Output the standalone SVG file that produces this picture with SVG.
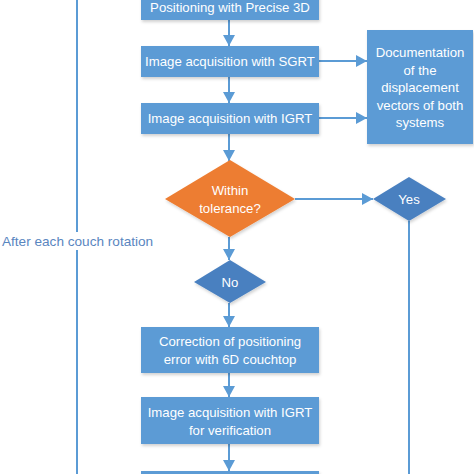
<svg xmlns="http://www.w3.org/2000/svg" width="474" height="474" viewBox="0 0 474 474">
<defs>
<style>
.box{fill:#5b9bd5;filter:url(#sh)}
.dk{fill:#4a80c0;filter:url(#sh)}
.or{fill:#ed7d31;filter:url(#sh)}
.t{font-family:"Liberation Sans",Arial,sans-serif;font-size:13.2px;fill:#ffffff;text-anchor:middle}
.ln{stroke:#5b9bd5;stroke-width:2;fill:none}
.lbl{font-family:"Liberation Sans",Arial,sans-serif;font-size:13.6px;fill:#5a86bf}
</style>
<filter id="sh" x="-10%" y="-10%" width="125%" height="130%">
<feDropShadow dx="1" dy="2" stdDeviation="1.5" flood-color="#000" flood-opacity="0.18"/>
</filter>
<marker id="ah" markerWidth="12" markerHeight="12" refX="11" refY="6" orient="auto" markerUnits="userSpaceOnUse">
<path d="M0,0 L11,6 L0,12 Z" fill="#5b9bd5"/>
</marker>
</defs>
<rect width="474" height="474" fill="#ffffff"/>
<g id="connectors">
<line class="ln" x1="77" y1="0" x2="77" y2="232"/>
<line class="ln" x1="77" y1="250" x2="77" y2="474"/>
<line class="ln" x1="229" y1="20" x2="229" y2="46" marker-end="url(#ah)"/>
<line class="ln" x1="229" y1="77" x2="229" y2="103" marker-end="url(#ah)"/>
<line class="ln" x1="229" y1="134" x2="229" y2="161" marker-end="url(#ah)"/>
<line class="ln" x1="319" y1="61" x2="367" y2="61" marker-end="url(#ah)"/>
<line class="ln" x1="319" y1="118" x2="367" y2="118" marker-end="url(#ah)"/>
<line class="ln" x1="295" y1="199" x2="373" y2="199" marker-end="url(#ah)"/>
<line class="ln" x1="409" y1="221" x2="409" y2="474"/>
<line class="ln" x1="229" y1="237" x2="229" y2="260" marker-end="url(#ah)"/>
<line class="ln" x1="229" y1="303" x2="229" y2="327" marker-end="url(#ah)"/>
<line class="ln" x1="229" y1="373" x2="229" y2="397" marker-end="url(#ah)"/>
<line class="ln" x1="229" y1="444" x2="229" y2="471" marker-end="url(#ah)"/>
</g>
<g id="label-loop"><text class="lbl" x="2" y="246">After each couch rotation</text></g>
<g id="n1"><rect class="box" x="141" y="-12" width="178" height="32"/><text class="t" x="230" y="11.5">Positioning with Precise 3D</text></g>
<g id="n2"><rect class="box" x="141" y="46" width="178" height="31"/><text class="t" x="230" y="66">Image acquisition with SGRT</text></g>
<g id="n3"><rect class="box" x="141" y="103" width="178" height="31"/><text class="t" x="230" y="123">Image acquisition with IGRT</text></g>
<g id="n4"><rect class="box" x="367" y="30" width="106" height="114"/>
<text class="t" x="420" y="57">Documentation</text>
<text class="t" x="420" y="74.5">of the</text>
<text class="t" x="420" y="92">displacement</text>
<text class="t" x="420" y="109.5">vectors of both</text>
<text class="t" x="420" y="127">systems</text></g>
<g id="n5"><polygon class="or" points="230,160 295,199 230,237 165,199"/>
<text class="t" x="230" y="194.5">Within</text><text class="t" x="230" y="212.5">tolerance?</text></g>
<g id="n6"><polygon class="dk" points="409,177 446,199 409,221 373,199"/><text class="t" x="409" y="204">Yes</text></g>
<g id="n7"><polygon class="dk" points="230,260 266,282 230,303 194,282"/><text class="t" x="230" y="287">No</text></g>
<g id="n8"><rect class="box" x="141" y="327" width="178" height="46"/>
<text class="t" x="230" y="346">Correction of positioning</text><text class="t" x="230" y="364">error with 6D couchtop</text></g>
<g id="n9"><rect class="box" x="141" y="397" width="178" height="47"/>
<text class="t" x="230" y="417">Image acquisition with IGRT</text><text class="t" x="230" y="435">for verification</text></g>
<g id="n10"><rect class="box" x="141" y="471" width="178" height="20"/></g>
</svg>
